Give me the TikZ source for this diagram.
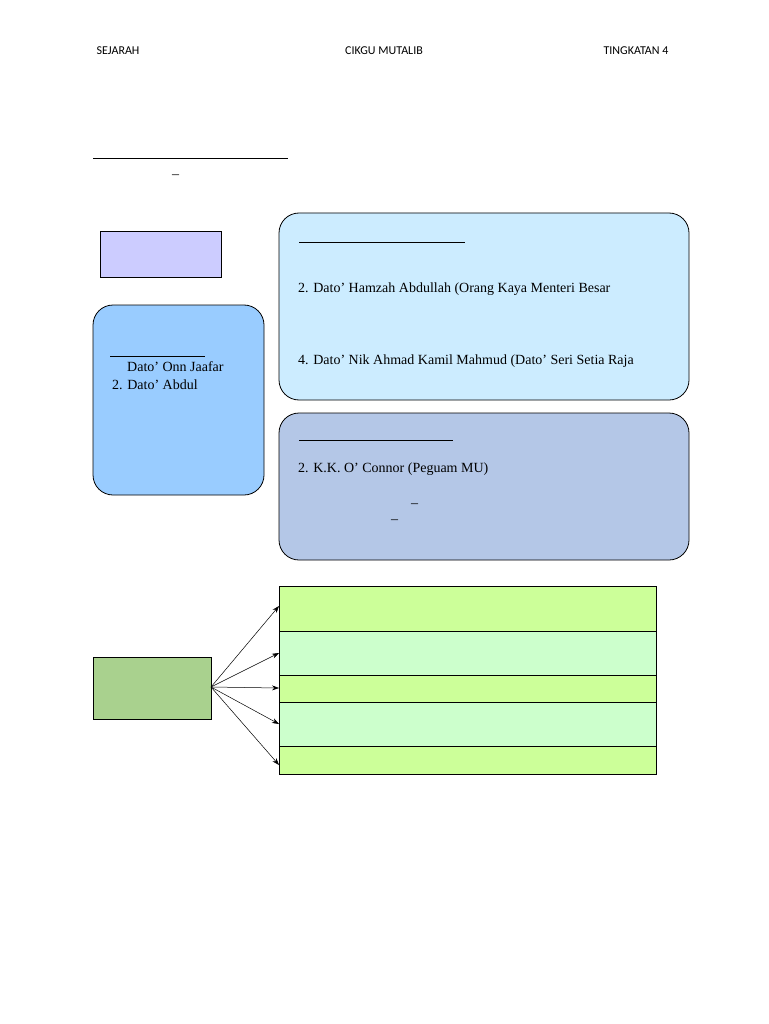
\documentclass[tikz,border=0pt]{standalone}
\usepackage{fontspec}
\setmainfont{Liberation Serif}
\newfontfamily\hdr{Carlito}
\usetikzlibrary{arrows.meta}
\definecolor{lav}{HTML}{CCCCFF}
\definecolor{lblue}{HTML}{CCECFF}
\definecolor{mblue}{HTML}{99CCFF}
\definecolor{gblue}{HTML}{B4C7E7}
\definecolor{lime}{HTML}{CCFF99}
\definecolor{mint}{HTML}{CCFFCC}
\definecolor{olive}{HTML}{A9D18E}
\tikzset{x=1pt,y=-1pt,
 rbox/.style={draw,line width=0.8pt,rounded corners=20pt},
 sbox/.style={draw,line width=1pt},
 txt/.style={anchor=west,inner sep=0,font=\fontsize{14}{16}\selectfont},
 hd/.style={inner sep=0,font=\hdr\fontsize{12}{14}\selectfont},
 arr/.style={-{Stealth[length=7pt,width=5pt]},line width=0.5pt}}
\begin{document}
\begin{tikzpicture}
\useasboundingbox (0,0) rectangle (768,1024);
\fill[white] (0,0) rectangle (768,1024);
\node[hd] (h1) at (118,51) {SEJARAH};
\node[hd] (h2) at (384,51) {CIKGU MUTALIB};
\node[hd] (h3) at (636,51) {TINGKATAN 4};
\draw (93,158) -- (288,158);
\node[txt] (d0) at (172,177) {–};
\draw[sbox,fill=lav] (100,232) rectangle (221,277);
\draw[rbox,fill=lblue] (279,213) rectangle (689,400);
\draw (299,242) -- (465,242);
\node[txt] (t1) at (298,289) {2. Dato’ Hamzah Abdullah (Orang Kaya Menteri Besar};
\node[txt] (t2) at (298,361) {4. Dato’ Nik Ahmad Kamil Mahmud (Dato’ Seri Setia Raja};
\draw[rbox,fill=mblue] (93,305) rectangle (264,495);
\draw (110,356) -- (205,356);
\node[txt] (t3) at (127,367) {Dato’ Onn Jaafar};
\node[txt] (t4) at (112,385) {2. Dato’ Abdul};
\draw[rbox,fill=gblue] (279,413) rectangle (689,560);
\draw (299,440) -- (453,440);
\node[txt] (t5) at (298,469) {2. K.K. O’ Connor (Peguam MU)};
\node[txt] (d1) at (411,506) {–};
\node[txt] (d2) at (391,522) {–};
\draw[sbox,fill=lime] (279,586) rectangle (656,631) coordinate (g1);
\draw[sbox,fill=mint] (279,631) rectangle (656,675);
\draw[sbox,fill=lime] (279,675) rectangle (656,702);
\draw[sbox,fill=mint] (279,702) rectangle (656,746);
\draw[sbox,fill=lime] (279,746) rectangle (656,774);
\coordinate (a1) at (279,606);
\coordinate (a2) at (279,653);
\coordinate (a3) at (279,688);
\coordinate (a4) at (279,724);
\coordinate (a5) at (279,765);
\draw[sbox,fill=olive] (93,657) rectangle (211,719);
\coordinate (src) at (211,687);
\foreach \t in {a1,a2,a3,a4,a5} \draw[arr] (src) -- (\t);
\end{tikzpicture}
\end{document}
